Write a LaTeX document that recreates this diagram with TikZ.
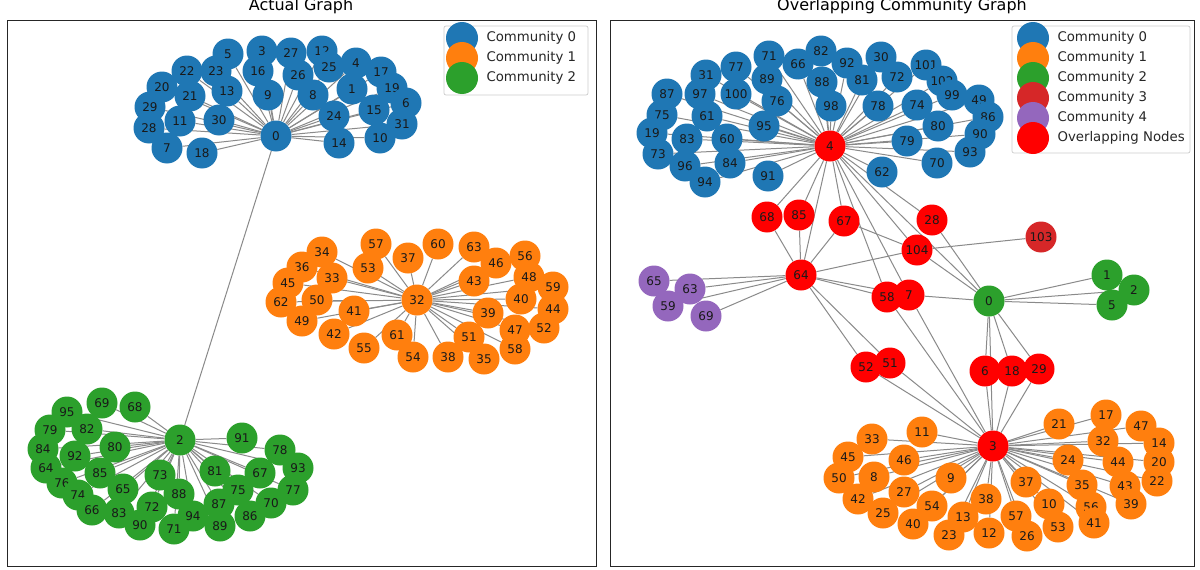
\documentclass[tikz,border=0pt]{standalone}
\usepackage{fontspec}
\setmainfont{DejaVu Sans}
\pgfdeclarelayer{back}
\pgfdeclarelayer{bg}
\pgfsetlayers{back,bg,main}
\definecolor{cblue}{HTML}{1F77B4}
\definecolor{corange}{HTML}{FF7F0E}
\definecolor{cgreen}{HTML}{2CA02C}
\definecolor{cred}{HTML}{D62728}
\definecolor{cpurple}{HTML}{9467BD}
\definecolor{cover}{HTML}{FF0000}
\definecolor{edgegray}{HTML}{8A8A8A}
\definecolor{legbord}{HTML}{CCCCCC}
\begin{document}
\begin{tikzpicture}[x=1pt,y=-1pt,
  nd/.style={circle,minimum size=31pt,inner sep=0pt,font=\fontsize{12}{14}\selectfont,text=black!90},
  bn/.style={nd,fill=cblue},
  on/.style={nd,fill=corange},
  gn/.style={nd,fill=cgreen},
  rn/.style={nd,fill=cover},
  cn/.style={nd,fill=cred},
  pn/.style={nd,fill=cpurple},
  edge/.style={draw=edgegray,line width=1pt},
  frame/.style={draw=black!85,line width=0.9pt},
  ttl/.style={font=\fontsize{16}{18}\selectfont},
  legbox/.style={draw=legbord,fill=white,fill opacity=0.85,rounded corners=2pt,line width=0.7pt},
  legdot/.style={circle,minimum size=32pt,inner sep=0pt},
  legtxt/.style={anchor=west,font=\fontsize{13.3}{15}\selectfont,text=black!85}]
\useasboundingbox (0,0) rectangle (1200,570);
\begin{pgfonlayer}{back}
\fill[white] (0,0) rectangle (1200,570);
\end{pgfonlayer}

% ---------- Titles and frames ----------
\node[ttl] (t1) at (301,6) {Actual Graph};
\node[ttl] (t2) at (902,6) {Overlapping Community Graph};
\begin{pgfonlayer}{back}
\draw[frame] (7,20) rectangle (596,566);
\draw[frame] (610,20) rectangle (1194,566);
\end{pgfonlayer}

% ---------- LEFT PANEL ----------
\foreach \n/\px/\py in {3/262/51, 12/322/51, 27/291/53, 5/228/54, 4/356/63, 25/329/67, 16/258/71, 23/216/71, 22/187/71, 17/381/72, 26/298/75, 20/162/87, 19/392/88, 1/352/89, 13/227/91, 8/313/95, 9/268/95, 21/190/96, 6/406/103, 29/150/107, 15/374/110, 24/334/116, 30/219/120, 11/180/121, 31/402/124, 28/149/128, 0/276/136, 10/380/138, 14/339/143, 7/167/148, 18/202/153}
  \node[bn] (Lb\n) at (\px,\py) {\n};

\foreach \n/\px/\py in {57/376/244, 60/438/244, 63/474/247, 34/322/252, 56/525/256, 37/408/258, 46/496/263, 36/302/267, 53/368/268, 48/529/277, 33/332/278, 43/474/281, 45/288/283, 59/553/287, 40/521/299, 62/281/302, 50/317/300, 32/417/300, 44/553/309, 41/354/311, 39/488/313, 49/302/321, 52/544/328, 47/515/330, 42/334/334, 61/397/335, 51/469/337, 55/364/348, 58/515/349, 54/413/357, 38/448/357, 35/484/359}
  \node[on] (Lo\n) at (\px,\py) {\n};

\foreach \n/\px/\py in {69/102/403, 68/135/407, 95/67/412, 82/87/429, 79/50/430, 91/242/438, 2/180/440, 80/115/447, 84/43/449, 78/280/450, 92/75/456, 64/46/468, 93/298/468, 81/215/471, 67/260/473, 85/100/473, 73/160/475, 76/62/483, 65/123/489, 75/238/490, 77/293/490, 88/179/494, 74/78/495, 70/271/503, 87/219/504, 72/152/507, 66/92/510, 83/119/513, 86/250/516, 94/193/516, 90/140/525, 89/220/526, 71/174/529}
  \node[gn] (Lg\n) at (\px,\py) {\n};

\begin{pgfonlayer}{bg}
  \foreach \n in {3,12,27,5,4,25,16,23,22,17,26,20,19,1,13,8,9,21,6,29,15,24,30,11,31,28,10,14,7,18}
    \draw[edge] (Lb0) -- (Lb\n);
  \foreach \n in {57,60,63,34,56,37,46,36,53,48,33,43,45,59,40,62,50,44,41,39,49,52,47,42,61,51,55,58,54,38,35}
    \draw[edge] (Lo32) -- (Lo\n);
  \foreach \n in {69,68,95,82,79,91,80,84,78,92,64,93,81,67,85,73,76,65,75,77,88,74,70,87,72,66,83,86,94,90,89,71}
    \draw[edge] (Lg2) -- (Lg\n);
  \draw[edge] (Lb0) -- (Lg2);
\end{pgfonlayer}

% left legend
\draw[legbox] (444,26) rectangle (588,95);
\node[legdot,fill=cblue] (ll0) at (462,38) {};
\node[legdot,fill=corange] (ll1) at (462,58) {};
\node[legdot,fill=cgreen] (ll2) at (462,78) {};
\node[legtxt] (llt0) at (483,38) {Community 0};
\node[legtxt] (llt1) at (483,58) {Community 1};
\node[legtxt] (llt2) at (483,78) {Community 2};

% ---------- RIGHT PANEL ----------
\foreach \n/\px/\py in {82/821/51, 71/769/56, 30/881/57, 92/847/63, 66/798/64, 101/926/65, 77/736/67, 31/706/75, 72/897/77, 89/767/79, 81/862/80, 102/942/81, 88/822/82, 87/667/94, 97/700/94, 100/736/94, 99/952/95, 49/979/100, 76/777/101, 74/917/105, 78/878/106, 98/831/106, 75/662/115, 61/707/116, 86/988/117, 95/764/126, 80/938/126, 19/652/133, 90/980/134, 83/687/139, 60/727/139, 79/907/141, 93/970/152, 73/658/154, 70/937/163, 84/730/163, 96/685/166, 62/882/172, 91/768/176, 94/705/182}
  \node[bn] (Rb\n) at (\px,\py) {\n};

\foreach \n/\px/\py in {17/1106/415, 21/1059/424, 47/1141/426, 11/922/432, 33/872/439, 32/1103/441, 14/1159/443, 45/848/457, 24/1068/460, 46/904/460, 20/1159/462, 44/1118/462, 8/874/477, 50/839/478, 9/951/478, 22/1157/481, 37/1026/482, 35/1082/485, 43/1125/486, 27/904/492, 42/858/499, 38/986/499, 10/1049/504, 39/1131/504, 54/932/506, 56/1091/507, 25/883/513, 57/1016/516, 13/963/517, 41/1094/523, 40/913/524, 53/1058/527, 12/989/533, 23/949/535, 26/1027/536}
  \node[on] (Ro\n) at (\px,\py) {\n};

\foreach \n/\px/\py in {65/654/281, 59/668/306, 63/690/289, 69/706/316}
  \node[pn] (Rp\n) at (\px,\py) {\n};

\foreach \n/\px/\py in {0/989/301, 1/1107/275, 2/1134/290, 5/1112/305}
  \node[gn] (Rg\n) at (\px,\py) {\n};

\node[cn] (Rc103) at (1041,237) {103};

\foreach \n/\px/\py in {4/830/146, 68/767/217, 85/799/215, 67/844/221, 28/932/220, 104/917/250, 64/801/275, 58/887/297, 7/909/295, 52/866/367, 51/890/363, 6/985/371, 18/1012/371, 29/1039/369, 3/993/446}
  \node[rn] (Rr\n) at (\px,\py) {\n};

\begin{pgfonlayer}{bg}
  \foreach \n in {82,71,30,92,66,101,77,31,72,89,81,102,88,87,97,100,99,49,76,74,78,98,75,61,86,95,80,19,90,83,60,79,93,73,70,84,96,62,91,94}
    \draw[edge] (Rr4) -- (Rb\n);
  \foreach \n in {17,21,47,11,33,32,14,45,24,46,20,44,8,50,9,22,37,35,43,27,42,38,10,39,54,56,25,57,13,41,40,53,12,23,26}
    \draw[edge] (Rr3) -- (Ro\n);
  \foreach \n in {68,85,64,67,58,7,104,28}
    \draw[edge] (Rr4) -- (Rr\n);
  \draw[edge] (Rr4) -- (Rg0);
  \foreach \n in {68,85,67,104,58,7,52,51}
    \draw[edge] (Rr64) -- (Rr\n);
  \foreach \n in {65,63,59,69}
    \draw[edge] (Rr64) -- (Rp\n);
  \draw[edge] (Rr67) -- (Rr104);
  \draw[edge] (Rr104) -- (Rc103);
  \draw[edge] (Rr104) -- (Rg0);
  \draw[edge] (Rr28) -- (Rg0);
  \draw[edge] (Rr7) -- (Rg0);
  \foreach \n in {1,2,5}
    \draw[edge] (Rg0) -- (Rg\n);
  \foreach \n in {6,18,29}
    \draw[edge] (Rg0) -- (Rr\n);
  \draw[edge] (Rg0) -- (Rr3);
  \foreach \n in {6,18,29,52,51,58,7}
    \draw[edge] (Rr3) -- (Rr\n);
\end{pgfonlayer}

% right legend
\draw[legbox] (1012,26) rectangle (1190,153);
\node[legdot,fill=cblue] (rl0) at (1033,38) {};
\node[legdot,fill=corange] (rl1) at (1033,58) {};
\node[legdot,fill=cgreen] (rl2) at (1033,78) {};
\node[legdot,fill=cred] (rl3) at (1033,98) {};
\node[legdot,fill=cpurple] (rl4) at (1033,118) {};
\node[legdot,fill=cover] (rl5) at (1033,138) {};
\node[legtxt] (rlt0) at (1054,38) {Community 0};
\node[legtxt] (rlt1) at (1054,58) {Community 1};
\node[legtxt] (rlt2) at (1054,78) {Community 2};
\node[legtxt] (rlt3) at (1054,98) {Community 3};
\node[legtxt] (rlt4) at (1054,118) {Community 4};
\node[legtxt] (rlt5) at (1054,138) {Overlapping Nodes};
\end{tikzpicture}
\end{document}
